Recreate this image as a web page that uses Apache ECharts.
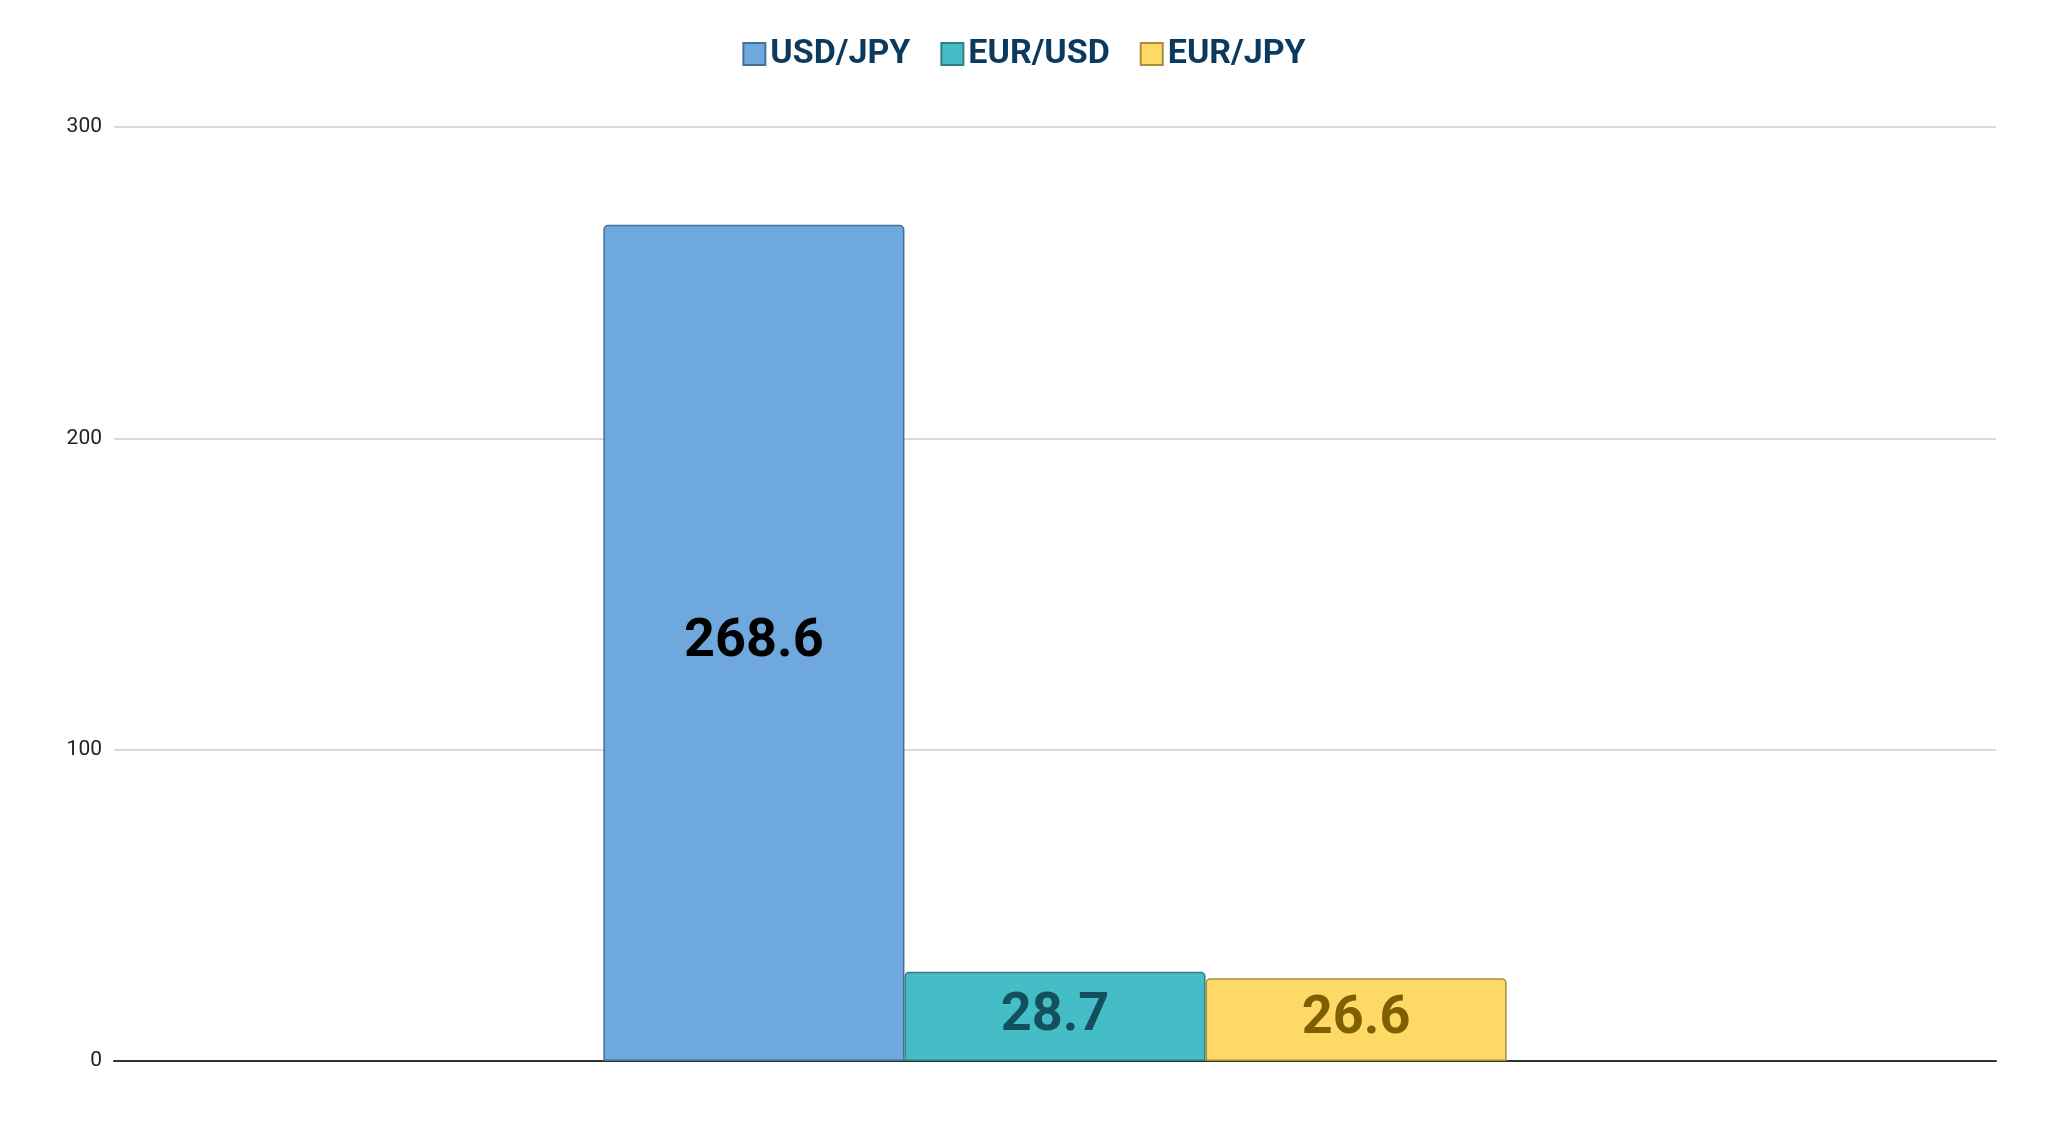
<!DOCTYPE html>
<html><head><meta charset="utf-8">
<script src="https://cdn.jsdelivr.net/npm/echarts@6/dist/echarts.min.js"></script>
<style>html,body{margin:0;padding:0;background:#fff}#c{width:2048px;height:1132px}</style>
</head><body><div id="c"></div>
<script>
const categories = [''];
const seriesNames = ['USD/JPY', 'EUR/USD', 'EUR/JPY'];
const usdJpy = [268.6];
const eurUsd = [28.7];
const eurJpy = [26.6];
const yTicks = [0, 100, 200, 300];

const fills = ['#6fa8dc', '#45bdc6', '#ffd966'];
const borders = ['#4a6f94', '#2f7f86', '#a88f40'];
const labelColors = ['#000000', '#134f5c', '#7f6000'];
const data = [usdJpy, eurUsd, eurJpy];

const chart = echarts.init(document.getElementById('c'));
chart.setOption({
  animation: false,
  textStyle: { fontFamily: 'Roboto, Arial, sans-serif' },
  legend: {
    top: 32, itemWidth: 22, itemHeight: 22, itemGap: 30,
    textStyle: { fontSize: 34, fontWeight: 'bold', color: '#0b3a5e' },
    icon: 'rect', data: seriesNames
  },
  grid: { left: 114, right: 52, top: 127, bottom: 71 },
  xAxis: {
    type: 'category', data: categories,
    axisLine: { lineStyle: { color: '#333', width: 2 } },
    axisTick: { show: false }, axisLabel: { show: false }
  },
  yAxis: {
    type: 'value', min: yTicks[0], max: yTicks[yTicks.length - 1], interval: 100,
    axisLine: { show: false }, axisTick: { show: false },
    axisLabel: { fontSize: 21, color: '#222', margin: 12 },
    splitLine: { lineStyle: { color: '#cccccc', width: 1.5 } }
  },
  series: seriesNames.map((n, i) => ({
    name: n, type: 'bar', data: data[i],
    barGap: '0%', barCategoryGap: '52%',
    itemStyle: { color: fills[i], borderColor: borders[i], borderWidth: 1.5, borderRadius: [4, 4, 0, 0] },
    label: { show: true, position: 'inside', fontSize: 54, fontWeight: 'bold', color: labelColors[i] }
  }))
});
</script></body></html>
